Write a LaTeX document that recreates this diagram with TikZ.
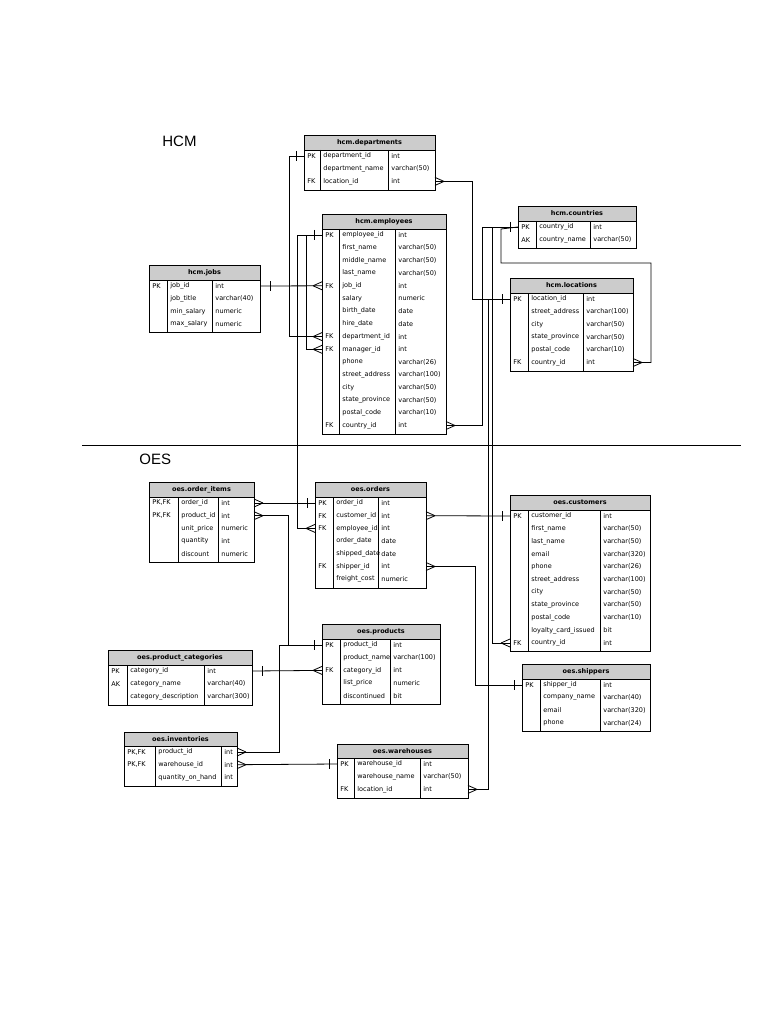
\documentclass[tikz,border=0pt]{standalone}
\usepackage{fontspec}
\setmainfont{DejaVu Sans}
\newfontfamily\labfont{Liberation Sans}
\begin{document}
\begin{tikzpicture}[x=1pt,y=-1pt,line width=0.8pt,
  cell/.style={anchor=west,inner sep=0pt,font=\fontsize{6.5}{7}\selectfont},
  hdr/.style={anchor=center,inner sep=0pt,font=\fontsize{6.5}{7}\selectfont\bfseries},
  big/.style={anchor=west,inner sep=0pt,font=\fontsize{15}{16}\labfont}]
\useasboundingbox (0,0) rectangle (768,1024);
\newcommand\ertable[9]{%
  \fill[gray!40] (#3,#7) rectangle (#6,#8);
  \node[hdr] (#1-title) at ({(#3+#6)/2},{(#7+#8)/2}) {#2};
  \foreach[count=\i] \k/\n/\t in {#9}{%
    \pgfmathsetmacro\yy{#8+6+(\i-1)*12.7}
    \node[cell] (#1-\i-k) at (#3+3,\yy) {\k};
    \node[cell] (#1-\i-n) at (#4+3,\yy) {\n};
    \node[cell] (#1-\i-t) at (#5+3,\yy) {\t};
    \coordinate (#1-\i-L) at (#3,\yy);
    \coordinate (#1-\i-R) at (#6,\yy);
    \xdef\ern{\i}}%
  \pgfmathsetmacro\yb{#8+2+\ern*12.7}
  \draw (#3,#7) rectangle (#6,\yb);
  \draw (#3,#8) -- (#6,#8) (#4,#8) -- (#4,\yb) (#5,#8) -- (#5,\yb);
}
\newcommand\crowR[1]{\draw (#1) ++(9,0) -- ++(-9,-4) (#1) ++(9,0) -- ++(-9,4);}
\newcommand\crowL[1]{\draw (#1) ++(-9,0) -- ++(9,-4) (#1) ++(-9,0) -- ++(9,4);}
\newcommand\tickL[1]{\draw (#1) ++(-8,-5) -- ++(0,10);}
\newcommand\tickR[1]{\draw (#1) ++(10,-5) -- ++(0,10);}

\node[big] (hcm) at (162,141) {HCM};
\node[big] (oes) at (139,459) {OES};
\draw (82,445) -- (741,445);

\ertable{dep}{hcm.departments}{304}{320}{388}{435}{135}{150}{PK/department\_id/int, /department\_name/varchar(50), FK/location\_id/int}
\ertable{emp}{hcm.employees}{322}{339}{395}{446}{214}{229}{PK/employee\_id/int, /first\_name/varchar(50), /middle\_name/varchar(50), /last\_name/varchar(50), FK/job\_id/int, /salary/numeric, /birth\_date/date, /hire\_date/date, FK/department\_id/int, FK/manager\_id/int, /phone/varchar(26), /street\_address/varchar(100), /city/varchar(50), /state\_province/varchar(50), /postal\_code/varchar(10), FK/country\_id/int}
\ertable{jobs}{hcm.jobs}{149}{167}{212}{260}{265}{280}{PK/job\_id/int, /job\_title/varchar(40), /min\_salary/numeric, /max\_salary/numeric}
\ertable{cty}{hcm.countries}{518}{536}{590}{636}{206}{221}{PK/country\_id/int, AK/country\_name/varchar(50)}
\ertable{loc}{hcm.locations}{510}{528}{583}{633}{278}{293}{PK/location\_id/int, /street\_address/varchar(100), /city/varchar(50), /state\_province/varchar(50), /postal\_code/varchar(10), FK/country\_id/int}
\ertable{oi}{oes.order\_items}{149}{178}{218}{254}{482}{497}{{PK,FK}/order\_id/int, {PK,FK}/product\_id/int, /unit\_price/numeric, /quantity/int, /discount/numeric}
\ertable{ord}{oes.orders}{315}{333}{378}{426}{482}{497}{PK/order\_id/int, FK/customer\_id/int, FK/employee\_id/int, /order\_date/date, /shipped\_date/date, FK/shipper\_id/int, /freight\_cost/numeric}
\ertable{cus}{oes.customers}{510}{528}{600}{650}{495}{510}{PK/customer\_id/int, /first\_name/varchar(50), /last\_name/varchar(50), /email/varchar(320), /phone/varchar(26), /street\_address/varchar(100), /city/varchar(50), /state\_province/varchar(50), /postal\_code/varchar(10), /loyalty\_card\_issued/bit, FK/country\_id/int}
\ertable{prd}{oes.products}{322}{340}{390}{440}{624}{639}{PK/product\_id/int, /product\_name/varchar(100), FK/category\_id/int, /list\_price/numeric, /discontinued/bit}
\ertable{pc}{oes.product\_categories}{108}{127}{204}{252}{650}{665}{PK/category\_id/int, AK/category\_name/varchar(40), /category\_description/varchar(300)}
\ertable{shp}{oes.shippers}{522}{540}{600}{650}{664}{679}{PK/shipper\_id/int, /company\_name/varchar(40), /email/varchar(320), /phone/varchar(24)}
\ertable{inv}{oes.inventories}{124}{155}{221}{237}{732}{746}{{PK,FK}/product\_id/int, {PK,FK}/warehouse\_id/int, /quantity\_on\_hand/int}
\ertable{wh}{oes.warehouses}{337}{354}{420}{468}{744}{758}{PK/warehouse\_id/int, /warehouse\_name/varchar(50), FK/location\_id/int}

% connectors
\draw (dep-1-L) -- +(-15,0) |- (emp-9-L); \tickL{dep-1-L} \crowL{emp-9-L}
\draw (dep-3-R) -- +(37,0) |- (loc-1-L); \crowR{dep-3-R} \tickL{loc-1-L}
\draw (jobs-1-R) -- (emp-5-L); \tickR{jobs-1-R} \crowL{emp-5-L}
\draw (emp-1-L) -- +(-16,0) |- (emp-10-L); \tickL{emp-1-L} \crowL{emp-10-L}
\draw (emp-1-L) -- +(-25,0) |- (ord-3-L); \crowL{ord-3-L}
\draw (emp-16-R) -- +(36,0) |- (cty-1-L); \crowR{emp-16-R} \tickL{cty-1-L}
\draw (loc-6-R) -| (651,263) -| (501,229) -- (cty-1-L); \crowR{loc-6-R}
\draw (cty-1-L) -- +(-26,0) |- (cus-11-L); \crowL{cus-11-L}
\draw (loc-1-L) -- +(-22,0) |- (wh-3-R); \crowR{wh-3-R}
\draw (oi-1-R) -- (ord-1-L); \crowR{oi-1-R} \tickL{ord-1-L}
\draw (oi-2-R) -- +(34,0) |- (prd-1-L); \crowR{oi-2-R} \tickL{prd-1-L}
\draw (ord-2-R) -- (cus-1-L); \crowR{ord-2-R} \tickL{cus-1-L}
\draw (ord-6-R) -- +(49,0) |- (shp-1-L); \crowR{ord-6-R} \tickL{shp-1-L}
\draw (pc-1-R) -- (prd-3-L); \tickR{pc-1-R} \crowL{prd-3-L}
\draw (inv-1-R) -- +(42,0) |- (prd-1-L); \crowR{inv-1-R}
\draw (inv-2-R) -- (wh-1-L); \crowR{inv-2-R} \tickL{wh-1-L}
\end{tikzpicture}
\end{document}
